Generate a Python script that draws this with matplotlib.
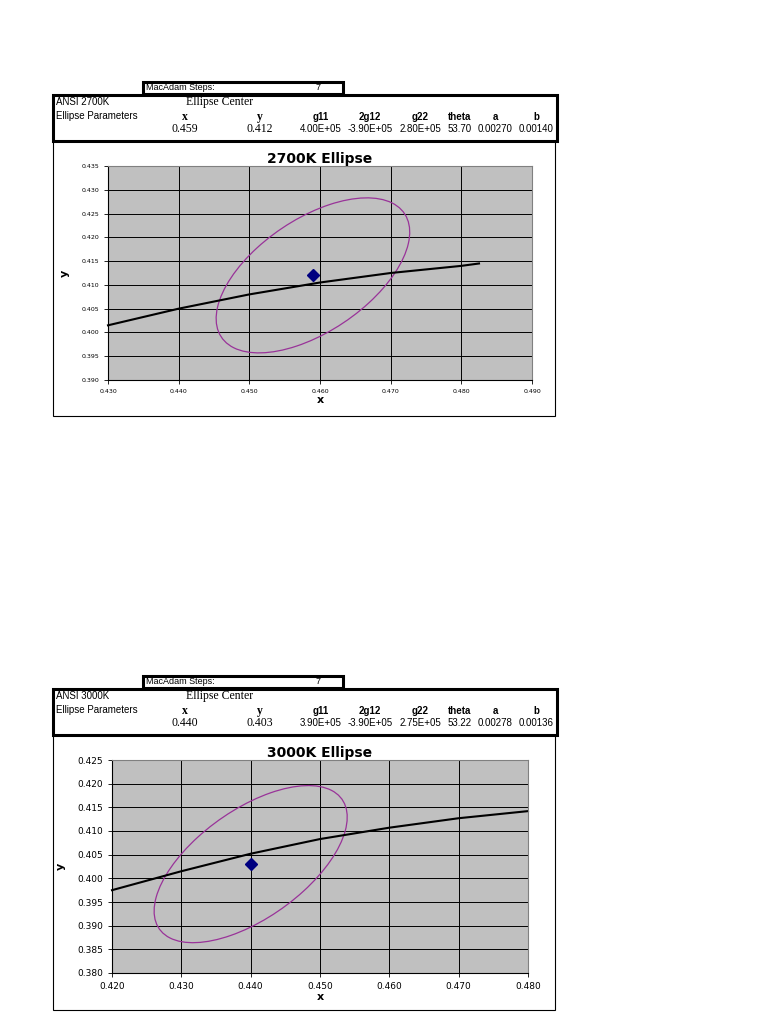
import numpy as np
import matplotlib
matplotlib.use("Agg")
import matplotlib.pyplot as plt
from matplotlib.patches import Rectangle, Ellipse

W, H = 768, 1024
steps = 7
charts = [
    dict(name="2700K", cx=0.459, cy=0.412, g11="4.00E+05", g12="-3.90E+05", g22="2.80E+05",
         theta=53.70, a=0.00270, b=0.00140,
         xlim=(0.430, 0.490), ylim=(0.390, 0.435), xstep=0.010, ystep=0.005,
         locx=[0.430, 0.440, 0.450, 0.460, 0.470, 0.480, 0.4825],
         locy=[0.4015, 0.4050, 0.4080, 0.4105, 0.4125, 0.4140, 0.4145],
         top=82, small=True),
    dict(name="3000K", cx=0.440, cy=0.403, g11="3.90E+05", g12="-3.90E+05", g22="2.75E+05",
         theta=53.22, a=0.00278, b=0.00136,
         xlim=(0.420, 0.480), ylim=(0.380, 0.425), xstep=0.010, ystep=0.005,
         locx=[0.420, 0.430, 0.440, 0.450, 0.460, 0.470, 0.480],
         locy=[0.3975, 0.4015, 0.4052, 0.4083, 0.4107, 0.4127, 0.4142],
         top=676, small=False),
]

fig = plt.figure(figsize=(W/100, H/100), dpi=100)

def fx(p): return p / W
def fy(p): return 1 - p / H

def rect(x0, y0, x1, y1, lw):
    fig.patches.append(Rectangle((fx(x0), fy(y1)), fx(x1) - fx(x0), fy(y0) - fy(y1),
                                 transform=fig.transFigure, fill=False, lw=lw, ec="black"))

for c in charts:
    t = c["top"]
    # tables
    rect(143, t, 343, t + 12, 2.2)
    fig.text(fx(146), fy(t + 6), "MacAdam Steps:", fontsize=6.5, va="center", family="Liberation Sans")
    fig.text(fx(318), fy(t + 6), str(steps), fontsize=6.5, va="center", ha="center", family="Liberation Sans")
    rect(53, t + 13, 557, t + 59, 2.2)
    fig.text(fx(56), fy(t + 20), "ANSI " + c["name"], fontsize=7, va="center", family="Liberation Sans")
    fig.text(fx(56), fy(t + 34), "Ellipse Parameters", fontsize=7, va="center", family="Liberation Sans")
    fig.text(fx(186), fy(t + 20), "Ellipse Center", fontsize=8.5, va="center", family="Liberation Serif")
    fig.text(fx(185), fy(t + 35), "x", fontsize=8.5, va="center", ha="center", weight="bold", family="Liberation Serif")
    fig.text(fx(260), fy(t + 35), "y", fontsize=8.5, va="center", ha="center", weight="bold", family="Liberation Serif")
    fig.text(fx(185), fy(t + 47), "%.3f" % c["cx"], fontsize=8.5, va="center", ha="center", family="Liberation Serif")
    fig.text(fx(260), fy(t + 47), "%.3f" % c["cy"], fontsize=8.5, va="center", ha="center", family="Liberation Serif")
    cols = [(321, "g11", c["g11"]), (370, "2g12", c["g12"]), (420, "g22", c["g22"]),
            (460, "theta", "%.2f" % c["theta"]), (495, "a", "%.5f" % c["a"]), (536, "b", "%.5f" % c["b"])]
    for xp, h, v in cols:
        fig.text(fx(xp), fy(t + 35), h, fontsize=7, va="center", ha="center", weight="bold", family="Liberation Sans")
        fig.text(fx(xp), fy(t + 47), v, fontsize=7, va="center", ha="center", family="Liberation Sans")
    # chart border
    rect(53, t + 59, 555, t + 334, 0.8)
    if c["small"]:
        px0, px1, py0, py1 = 108, 532, 166, 380
        tfs = 4.5
    else:
        px0, px1, py0, py1 = 112, 528, 760, 973
        tfs = 6.5
    ax = fig.add_axes([fx(px0), fy(py1), fx(px1) - fx(px0), fy(py0) - fy(py1)])
    ax.set_facecolor("#C0C0C0")
    ax.set_xlim(*c["xlim"]); ax.set_ylim(*c["ylim"])
    ax.set_xticks(np.arange(c["xlim"][0], c["xlim"][1] + 1e-9, c["xstep"]))
    ax.set_yticks(np.arange(c["ylim"][0], c["ylim"][1] + 1e-9, c["ystep"]))
    ax.xaxis.set_major_formatter(matplotlib.ticker.FormatStrFormatter("%.3f"))
    ax.yaxis.set_major_formatter(matplotlib.ticker.FormatStrFormatter("%.3f"))
    ax.tick_params(labelsize=tfs, length=3, width=0.6, direction="out")
    ax.grid(True, color="black", lw=0.7)
    ax.set_axisbelow(True)
    for s in ["top", "right"]:
        ax.spines[s].set_color("#808080")
    ax.set_title(c["name"] + " Ellipse", fontsize=10, weight="bold", pad=2)
    ax.set_xlabel("x", fontsize=8, weight="bold", labelpad=1)
    ax.set_ylabel("y", fontsize=8, weight="bold", labelpad=8)
    ax.plot(c["locx"], c["locy"], color="black", lw=1.5, clip_on=False)
    ax.add_patch(Ellipse((c["cx"], c["cy"]), 2 * steps * c["a"], 2 * steps * c["b"],
                         angle=c["theta"], fill=False, ec="#993399", lw=0.9))
    ax.plot([c["cx"]], [c["cy"]], marker="D", color="#000080", ms=6, ls="none")

fig.savefig("out.png", dpi=100)
